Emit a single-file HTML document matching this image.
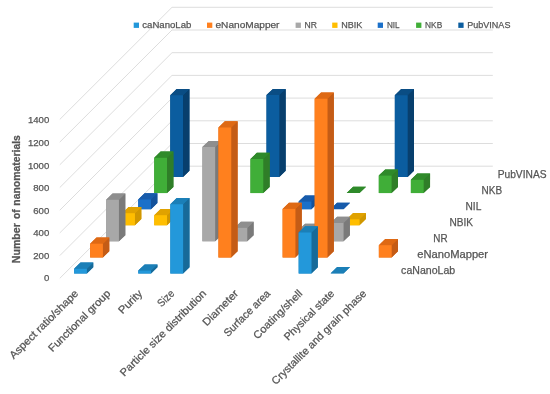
<!DOCTYPE html>
<html><head><meta charset="utf-8"><title>Chart</title>
<style>
html,body{margin:0;padding:0;background:#fff;}
body{width:550px;height:394px;overflow:hidden;}
svg{display:block;}
svg text{font-family:"Liberation Sans",sans-serif;fill:#555;stroke:#555;stroke-width:0.25px;}
</style></head><body>
<svg width="550" height="394" viewBox="0 0 550 394">
<rect width="550" height="394" fill="#fff"/>
<g fill="none" stroke="#D9D9D9" stroke-width="0.9"><polyline points="59.8,119.4 172,7.3 492.8,7.3"/><polyline points="59.8,142.1 172,30 492.8,30"/><polyline points="59.8,164.8 172,52.7 492.8,52.7"/><polyline points="59.8,187.5 172,75.4 492.8,75.4"/><polyline points="59.8,210.2 172,98.1 492.8,98.1"/><polyline points="59.8,232.9 172,120.8 492.8,120.8"/><polyline points="59.8,255.6 172,143.5 492.8,143.5"/><polyline points="59.8,278.3 172,166.2 492.8,166.2"/></g>
<polygon points="170.28,177.02 170.28,95.3 176.68,89.1 189.43,89.1 189.43,170.82 183.03,177.02" fill="#0A4D84"/>
<polygon points="183.03,95.3 189.43,89.1 189.43,170.82 183.03,177.02" fill="#083F6D"/>
<polygon points="170.28,95.3 176.68,89.1 189.43,89.1 183.03,95.3" fill="#0A4D84"/>
<polygon points="170.28,95.3 183.03,95.3 183.03,177.02 170.28,177.02" fill="#0B5D9F"/>
<polygon points="266.52,177.02 266.52,95.1 272.92,88.9 285.67,88.9 285.67,170.82 279.27,177.02" fill="#0A4D84"/>
<polygon points="279.27,95.1 285.67,88.9 285.67,170.82 279.27,177.02" fill="#083F6D"/>
<polygon points="266.52,95.1 272.92,88.9 285.67,88.9 279.27,95.1" fill="#0A4D84"/>
<polygon points="266.52,95.1 279.27,95.1 279.27,177.02 266.52,177.02" fill="#0B5D9F"/>
<polygon points="394.84,177.02 394.84,95.2 401.24,89 413.99,89 413.99,170.82 407.59,177.02" fill="#0A4D84"/>
<polygon points="407.59,95.2 413.99,89 413.99,170.82 407.59,177.02" fill="#083F6D"/>
<polygon points="394.84,95.2 401.24,89 413.99,89 407.59,95.2" fill="#0A4D84"/>
<polygon points="394.84,95.2 407.59,95.2 407.59,177.02 394.84,177.02" fill="#0B5D9F"/>
<polygon points="154.25,193.1 154.25,157.8 160.65,151.6 173.4,151.6 173.4,186.9 167,193.1" fill="#2F8A2A"/>
<polygon points="167,157.8 173.4,151.6 173.4,186.9 167,193.1" fill="#2F7E28"/>
<polygon points="154.25,157.8 160.65,151.6 173.4,151.6 167,157.8" fill="#2F8A2A"/>
<polygon points="154.25,157.8 167,157.8 167,193.1 154.25,193.1" fill="#40AE38"/>
<polygon points="250.49,193.1 250.49,159 256.89,152.8 269.64,152.8 269.64,186.9 263.24,193.1" fill="#2F8A2A"/>
<polygon points="263.24,159 269.64,152.8 269.64,186.9 263.24,193.1" fill="#2F7E28"/>
<polygon points="250.49,159 256.89,152.8 269.64,152.8 263.24,159" fill="#2F8A2A"/>
<polygon points="250.49,159 263.24,159 263.24,193.1 250.49,193.1" fill="#40AE38"/>
<polygon points="346.73,193.1 346.73,192.9 353.13,186.7 365.88,186.7 365.88,186.9 359.48,193.1" fill="#2F8A2A"/>
<polygon points="359.48,192.9 365.88,186.7 365.88,186.9 359.48,193.1" fill="#2F7E28"/>
<polygon points="346.73,192.9 353.13,186.7 365.88,186.7 359.48,192.9" fill="#2F8A2A"/>
<polygon points="378.81,193.1 378.81,175.6 385.21,169.4 397.96,169.4 397.96,186.9 391.56,193.1" fill="#2F8A2A"/>
<polygon points="391.56,175.6 397.96,169.4 397.96,186.9 391.56,193.1" fill="#2F7E28"/>
<polygon points="378.81,175.6 385.21,169.4 397.96,169.4 391.56,175.6" fill="#2F8A2A"/>
<polygon points="378.81,175.6 391.56,175.6 391.56,193.1 378.81,193.1" fill="#40AE38"/>
<polygon points="410.89,193.1 410.89,179.8 417.29,173.6 430.04,173.6 430.04,186.9 423.64,193.1" fill="#2F8A2A"/>
<polygon points="423.64,179.8 430.04,173.6 430.04,186.9 423.64,193.1" fill="#2F7E28"/>
<polygon points="410.89,179.8 417.29,173.6 430.04,173.6 423.64,179.8" fill="#2F8A2A"/>
<polygon points="410.89,179.8 423.64,179.8 423.64,193.1 410.89,193.1" fill="#40AE38"/>
<polygon points="138.22,209.18 138.22,199.5 144.62,193.3 157.37,193.3 157.37,202.98 150.97,209.18" fill="#175BAB"/>
<polygon points="150.97,199.5 157.37,193.3 157.37,202.98 150.97,209.18" fill="#14529B"/>
<polygon points="138.22,199.5 144.62,193.3 157.37,193.3 150.97,199.5" fill="#175BAB"/>
<polygon points="138.22,199.5 150.97,199.5 150.97,209.18 138.22,209.18" fill="#1B70C9"/>
<polygon points="298.62,209.18 298.62,201.6 305.02,195.4 317.77,195.4 317.77,202.98 311.37,209.18" fill="#175BAB"/>
<polygon points="311.37,201.6 317.77,195.4 317.77,202.98 311.37,209.18" fill="#14529B"/>
<polygon points="298.62,201.6 305.02,195.4 317.77,195.4 311.37,201.6" fill="#175BAB"/>
<polygon points="298.62,201.6 311.37,201.6 311.37,209.18 298.62,209.18" fill="#1B70C9"/>
<polygon points="330.7,209.18 330.7,209 337.1,202.8 349.85,202.8 349.85,202.98 343.45,209.18" fill="#175BAB"/>
<polygon points="343.45,209 349.85,202.8 349.85,202.98 343.45,209.18" fill="#14529B"/>
<polygon points="330.7,209 337.1,202.8 349.85,202.8 343.45,209" fill="#175BAB"/>
<polygon points="122.19,225.26 122.19,213.2 128.59,207 141.34,207 141.34,219.06 134.94,225.26" fill="#E0A200"/>
<polygon points="134.94,213.2 141.34,207 141.34,219.06 134.94,225.26" fill="#D09700"/>
<polygon points="122.19,213.2 128.59,207 141.34,207 134.94,213.2" fill="#E0A200"/>
<polygon points="122.19,213.2 134.94,213.2 134.94,225.26 122.19,225.26" fill="#FFBE00"/>
<polygon points="154.27,225.26 154.27,215.2 160.67,209 173.42,209 173.42,219.06 167.02,225.26" fill="#E0A200"/>
<polygon points="167.02,215.2 173.42,209 173.42,219.06 167.02,225.26" fill="#D09700"/>
<polygon points="154.27,215.2 160.67,209 173.42,209 167.02,215.2" fill="#E0A200"/>
<polygon points="154.27,215.2 167.02,215.2 167.02,225.26 154.27,225.26" fill="#FFBE00"/>
<polygon points="346.75,225.26 346.75,219.3 353.15,213.1 365.9,213.1 365.9,219.06 359.5,225.26" fill="#E0A200"/>
<polygon points="359.5,219.3 365.9,213.1 365.9,219.06 359.5,225.26" fill="#D09700"/>
<polygon points="346.75,219.3 353.15,213.1 365.9,213.1 359.5,219.3" fill="#E0A200"/>
<polygon points="346.75,219.3 359.5,219.3 359.5,225.26 346.75,225.26" fill="#FFBE00"/>
<polygon points="106.16,241.34 106.16,199.8 112.56,193.6 125.31,193.6 125.31,235.14 118.91,241.34" fill="#8E8E8E"/>
<polygon points="118.91,199.8 125.31,193.6 125.31,235.14 118.91,241.34" fill="#7A7A7A"/>
<polygon points="106.16,199.8 112.56,193.6 125.31,193.6 118.91,199.8" fill="#8E8E8E"/>
<polygon points="106.16,199.8 118.91,199.8 118.91,241.34 106.16,241.34" fill="#A8A8A8"/>
<polygon points="202.4,241.34 202.4,147.1 208.8,140.9 221.55,140.9 221.55,235.14 215.15,241.34" fill="#8E8E8E"/>
<polygon points="215.15,147.1 221.55,140.9 221.55,235.14 215.15,241.34" fill="#7A7A7A"/>
<polygon points="202.4,147.1 208.8,140.9 221.55,140.9 215.15,147.1" fill="#8E8E8E"/>
<polygon points="202.4,147.1 215.15,147.1 215.15,241.34 202.4,241.34" fill="#A8A8A8"/>
<polygon points="234.48,241.34 234.48,227.9 240.88,221.7 253.63,221.7 253.63,235.14 247.23,241.34" fill="#8E8E8E"/>
<polygon points="247.23,227.9 253.63,221.7 253.63,235.14 247.23,241.34" fill="#7A7A7A"/>
<polygon points="234.48,227.9 240.88,221.7 253.63,221.7 247.23,227.9" fill="#8E8E8E"/>
<polygon points="234.48,227.9 247.23,227.9 247.23,241.34 234.48,241.34" fill="#A8A8A8"/>
<polygon points="298.64,241.34 298.64,229.9 305.04,223.7 317.79,223.7 317.79,235.14 311.39,241.34" fill="#8E8E8E"/>
<polygon points="311.39,229.9 317.79,223.7 317.79,235.14 311.39,241.34" fill="#7A7A7A"/>
<polygon points="298.64,229.9 305.04,223.7 317.79,223.7 311.39,229.9" fill="#8E8E8E"/>
<polygon points="298.64,229.9 311.39,229.9 311.39,241.34 298.64,241.34" fill="#A8A8A8"/>
<polygon points="330.72,241.34 330.72,223 337.12,216.8 349.87,216.8 349.87,235.14 343.47,241.34" fill="#8E8E8E"/>
<polygon points="343.47,223 349.87,216.8 349.87,235.14 343.47,241.34" fill="#7A7A7A"/>
<polygon points="330.72,223 337.12,216.8 349.87,216.8 343.47,223" fill="#8E8E8E"/>
<polygon points="330.72,223 343.47,223 343.47,241.34 330.72,241.34" fill="#A8A8A8"/>
<polygon points="90.13,257.42 90.13,243.7 96.53,237.5 109.28,237.5 109.28,251.22 102.88,257.42" fill="#DE6914"/>
<polygon points="102.88,243.7 109.28,237.5 109.28,251.22 102.88,257.42" fill="#C45C16"/>
<polygon points="90.13,243.7 96.53,237.5 109.28,237.5 102.88,243.7" fill="#DE6914"/>
<polygon points="90.13,243.7 102.88,243.7 102.88,257.42 90.13,257.42" fill="#FF801E"/>
<polygon points="218.45,257.42 218.45,127.4 224.85,121.2 237.6,121.2 237.6,251.22 231.2,257.42" fill="#DE6914"/>
<polygon points="231.2,127.4 237.6,121.2 237.6,251.22 231.2,257.42" fill="#C45C16"/>
<polygon points="218.45,127.4 224.85,121.2 237.6,121.2 231.2,127.4" fill="#DE6914"/>
<polygon points="218.45,127.4 231.2,127.4 231.2,257.42 218.45,257.42" fill="#FF801E"/>
<polygon points="282.61,257.42 282.61,208.9 289.01,202.7 301.76,202.7 301.76,251.22 295.36,257.42" fill="#DE6914"/>
<polygon points="295.36,208.9 301.76,202.7 301.76,251.22 295.36,257.42" fill="#C45C16"/>
<polygon points="282.61,208.9 289.01,202.7 301.76,202.7 295.36,208.9" fill="#DE6914"/>
<polygon points="282.61,208.9 295.36,208.9 295.36,257.42 282.61,257.42" fill="#FF801E"/>
<polygon points="314.69,257.42 314.69,98.8 321.09,92.6 333.84,92.6 333.84,251.22 327.44,257.42" fill="#DE6914"/>
<polygon points="327.44,98.8 333.84,92.6 333.84,251.22 327.44,257.42" fill="#C45C16"/>
<polygon points="314.69,98.8 321.09,92.6 333.84,92.6 327.44,98.8" fill="#DE6914"/>
<polygon points="314.69,98.8 327.44,98.8 327.44,257.42 314.69,257.42" fill="#FF801E"/>
<polygon points="378.85,257.42 378.85,245.2 385.25,239 398,239 398,251.22 391.6,257.42" fill="#DE6914"/>
<polygon points="391.6,245.2 398,239 398,251.22 391.6,257.42" fill="#C45C16"/>
<polygon points="378.85,245.2 385.25,239 398,239 391.6,245.2" fill="#DE6914"/>
<polygon points="378.85,245.2 391.6,245.2 391.6,257.42 378.85,257.42" fill="#FF801E"/>
<polygon points="74.1,273.5 74.1,268.8 80.5,262.6 93.25,262.6 93.25,267.3 86.85,273.5" fill="#1B7FB7"/>
<polygon points="86.85,268.8 93.25,262.6 93.25,267.3 86.85,273.5" fill="#176A99"/>
<polygon points="74.1,268.8 80.5,262.6 93.25,262.6 86.85,268.8" fill="#1B7FB7"/>
<polygon points="74.1,268.8 86.85,268.8 86.85,273.5 74.1,273.5" fill="#2398DA"/>
<polygon points="138.26,273.5 138.26,270.6 144.66,264.4 157.41,264.4 157.41,267.3 151.01,273.5" fill="#1B7FB7"/>
<polygon points="151.01,270.6 157.41,264.4 157.41,267.3 151.01,273.5" fill="#176A99"/>
<polygon points="138.26,270.6 144.66,264.4 157.41,264.4 151.01,270.6" fill="#1B7FB7"/>
<polygon points="138.26,270.6 151.01,270.6 151.01,273.5 138.26,273.5" fill="#2398DA"/>
<polygon points="170.34,273.5 170.34,204.2 176.74,198 189.49,198 189.49,267.3 183.09,273.5" fill="#1B7FB7"/>
<polygon points="183.09,204.2 189.49,198 189.49,267.3 183.09,273.5" fill="#176A99"/>
<polygon points="170.34,204.2 176.74,198 189.49,198 183.09,204.2" fill="#1B7FB7"/>
<polygon points="170.34,204.2 183.09,204.2 183.09,273.5 170.34,273.5" fill="#2398DA"/>
<polygon points="298.66,273.5 298.66,232.5 305.06,226.3 317.81,226.3 317.81,267.3 311.41,273.5" fill="#1B7FB7"/>
<polygon points="311.41,232.5 317.81,226.3 317.81,267.3 311.41,273.5" fill="#176A99"/>
<polygon points="298.66,232.5 305.06,226.3 317.81,226.3 311.41,232.5" fill="#1B7FB7"/>
<polygon points="298.66,232.5 311.41,232.5 311.41,273.5 298.66,273.5" fill="#2398DA"/>
<polygon points="330.74,273.5 330.74,273.3 337.14,267.1 349.89,267.1 349.89,267.3 343.49,273.5" fill="#1B7FB7"/>
<polygon points="343.49,273.3 349.89,267.1 349.89,267.3 343.49,273.5" fill="#176A99"/>
<polygon points="330.74,273.3 337.14,267.1 349.89,267.1 343.49,273.3" fill="#1B7FB7"/>
<g>
<text x="49.3" y="123.45" text-anchor="end" font-size="9.6">1400</text>
<text x="49.3" y="145.99" text-anchor="end" font-size="9.6">1200</text>
<text x="49.3" y="168.53" text-anchor="end" font-size="9.6">1000</text>
<text x="49.3" y="191.07" text-anchor="end" font-size="9.6">800</text>
<text x="49.3" y="213.61" text-anchor="end" font-size="9.6">600</text>
<text x="49.3" y="236.15" text-anchor="end" font-size="9.6">400</text>
<text x="49.3" y="258.69" text-anchor="end" font-size="9.6">200</text>
<text x="49.3" y="281.23" text-anchor="end" font-size="9.6">0</text>
<g transform="translate(20.3,263.3) rotate(-90)" font-size="10.7" font-weight="bold"><text x="0" textLength="40.2" lengthAdjust="spacingAndGlyphs">Number</text><text x="44.3" textLength="9.6" lengthAdjust="spacingAndGlyphs">of</text><text x="57.6" textLength="70.6" lengthAdjust="spacingAndGlyphs">nanomaterials</text></g>
<rect x="133.7" y="22.6" width="5.3" height="5.3" fill="#2398DA"/>
<text x="142.3" y="28.3" font-size="9.5" textLength="49.1" lengthAdjust="spacingAndGlyphs">caNanoLab</text>
<rect x="207" y="22.6" width="5.3" height="5.3" fill="#FF801E"/>
<text x="215.5" y="28.3" font-size="9.5" textLength="64" lengthAdjust="spacingAndGlyphs">eNanoMapper</text>
<rect x="295.6" y="22.6" width="5.3" height="5.3" fill="#A8A8A8"/>
<text x="304.5" y="28.3" font-size="9.5" textLength="12.4" lengthAdjust="spacingAndGlyphs">NR</text>
<rect x="332.2" y="22.6" width="5.3" height="5.3" fill="#FFBE00"/>
<text x="341.3" y="28.3" font-size="9.5" textLength="21.1" lengthAdjust="spacingAndGlyphs">NBIK</text>
<rect x="377.7" y="22.6" width="5.3" height="5.3" fill="#1B70C9"/>
<text x="386.9" y="28.3" font-size="9.5" textLength="12.7" lengthAdjust="spacingAndGlyphs">NIL</text>
<rect x="416.1" y="22.6" width="5.3" height="5.3" fill="#40AE38"/>
<text x="425.1" y="28.3" font-size="9.5" textLength="17.1" lengthAdjust="spacingAndGlyphs">NKB</text>
<rect x="458.3" y="22.6" width="5.3" height="5.3" fill="#0B5D9F"/>
<text x="467.3" y="28.3" font-size="9.5" textLength="43.1" lengthAdjust="spacingAndGlyphs">PubVINAS</text>
<text x="401.1" y="274.2" font-size="10.7" textLength="54.05" lengthAdjust="spacingAndGlyphs">caNanoLab</text>
<text x="417.2" y="258.2" font-size="10.7" textLength="70.87" lengthAdjust="spacingAndGlyphs">eNanoMapper</text>
<text x="433.3" y="242.2" font-size="10.7" textLength="14.26" lengthAdjust="spacingAndGlyphs">NR</text>
<text x="449.4" y="226.2" font-size="10.7" textLength="23.53" lengthAdjust="spacingAndGlyphs">NBIK</text>
<text x="465.5" y="210.2" font-size="10.7" textLength="15.81" lengthAdjust="spacingAndGlyphs">NIL</text>
<text x="481.6" y="194.2" font-size="10.7" textLength="20.51" lengthAdjust="spacingAndGlyphs">NKB</text>
<text x="497.7" y="178.2" font-size="10.7" textLength="48.84" lengthAdjust="spacingAndGlyphs">PubVINAS</text>
<text transform="translate(79,294.2) rotate(-45)" x="-92.41" font-size="10.7" textLength="92.41" lengthAdjust="spacingAndGlyphs">Aspect ratio/shape</text>
<text transform="translate(111,294.2) rotate(-45)" x="-82.59" font-size="10.7" textLength="82.59" lengthAdjust="spacingAndGlyphs">Functional group</text>
<text transform="translate(143,294.2) rotate(-45)" x="-28.89" font-size="10.7" textLength="28.89" lengthAdjust="spacingAndGlyphs">Purity</text>
<text transform="translate(175,294.2) rotate(-45)" x="-18.98" font-size="10.7" textLength="18.98" lengthAdjust="spacingAndGlyphs">Size</text>
<text transform="translate(207,294.2) rotate(-45)" x="-117.01" font-size="10.7" textLength="117.01" lengthAdjust="spacingAndGlyphs">Particle size distribution</text>
<text transform="translate(239,294.2) rotate(-45)" x="-45.62" font-size="10.7" textLength="45.62" lengthAdjust="spacingAndGlyphs">Diameter</text>
<text transform="translate(271,294.2) rotate(-45)" x="-60.82" font-size="10.7" textLength="60.82" lengthAdjust="spacingAndGlyphs">Surface area</text>
<text transform="translate(303,294.2) rotate(-45)" x="-64.31" font-size="10.7" textLength="64.31" lengthAdjust="spacingAndGlyphs">Coating/shell</text>
<text transform="translate(335,294.2) rotate(-45)" x="-66.12" font-size="10.7" textLength="66.12" lengthAdjust="spacingAndGlyphs">Physical state</text>
<text transform="translate(367,294.2) rotate(-45)" x="-128.88" font-size="10.7" textLength="128.88" lengthAdjust="spacingAndGlyphs">Crystallite and grain phase</text>
</g>
</svg>
</body></html>
